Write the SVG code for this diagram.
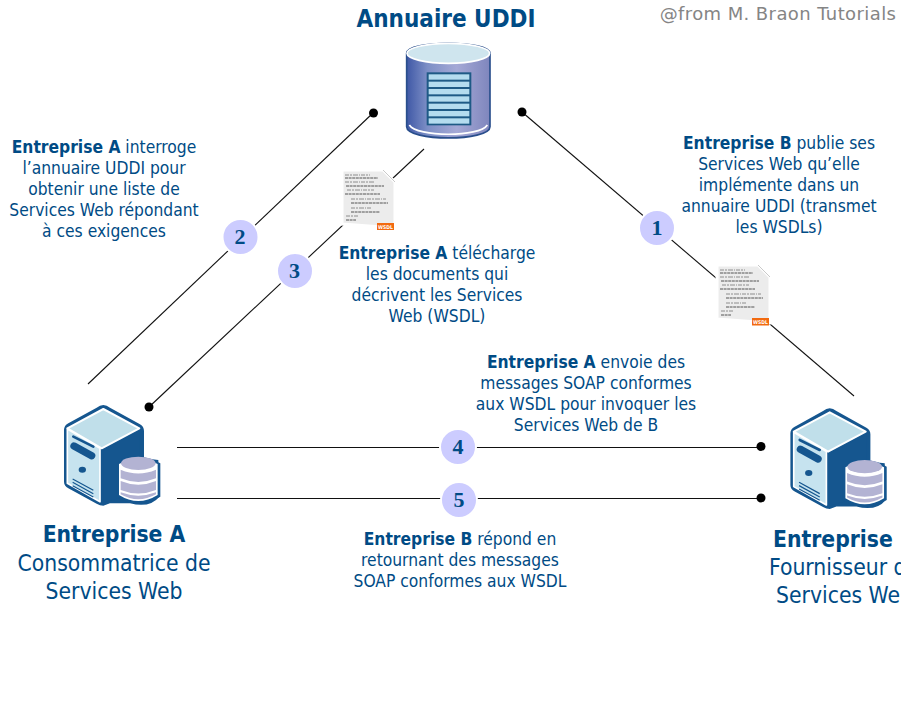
<svg xmlns="http://www.w3.org/2000/svg" xmlns:xlink="http://www.w3.org/1999/xlink" width="901" height="715" viewBox="0 0 901 715">
<style>
text{font-family:"DejaVu Sans Condensed","DejaVu Sans",sans-serif;fill:#004b85;text-anchor:middle}
.b{font-size:17.300px}
.h{font-weight:bold}
.big{font-size:22.700px}
.s{text-anchor:start}
.num{font-family:"Liberation Serif",serif;font-weight:bold;font-size:22px}
.c{fill:#ccccff;stroke:#fff;stroke-width:2}
.l{stroke:#111;stroke-width:1.1;fill:none}
.dot{fill:#000}
.badge{fill:#f26a10}
.bt{font-size:5px;font-weight:bold;fill:#fff}
.tl{stroke:#777;stroke-width:.8;stroke-dasharray:4 1 2 1 5 1 1 1;fill:none}
.tk{stroke:#444;stroke-width:.9;stroke-dasharray:3 .6;fill:none}
</style>
<defs>
<linearGradient id="cy" x1="0" x2="1" y1="0" y2="0"><stop offset="0" stop-color="#3f58a6"/><stop offset=".25" stop-color="#7d8fc6"/><stop offset=".6" stop-color="#a5a9d6"/><stop offset="1" stop-color="#7f86bd"/></linearGradient>
<g id="server">
<path d="M160,30Q170,30 180,38L270,88Q282,95 282,108L282,190L325,195L328,305Q300,340 240,325L180,325L160,332Q150,332 140,326L55,280Q42,272 42,260L42,105Q42,92 55,85L140,38Q150,30 160,30Z" fill="#15568f"/>
<path d="M160,42L268,100L155,160L52,100Z" fill="#c0dfea" stroke="#fff" stroke-width="6" stroke-linejoin="round"/>
<path d="M52,102L150,160L150,320L52,265Z" fill="#c6e3ef" stroke="#fff" stroke-width="5" stroke-linejoin="round"/>
<path d="M160,168L270,106L270,190L215,190L205,310L160,322Z" fill="#15568f"/>
<path d="M70,125L130,155" stroke="#15568f" stroke-width="8" stroke-linecap="round"/>
<path d="M72,153L125,182" stroke="#15568f" stroke-width="22" stroke-linecap="round"/>
<ellipse cx="97" cy="224" rx="11" ry="9" fill="#15568f"/>
<path d="M68,252L130,286M68,262L130,296M68,272L130,306M68,282L125,313" stroke="#15568f" stroke-width="3.500"/>
<path d="M199,205Q265,165 331,205L331,305Q265,345 199,305Z" fill="#15568f"/>
<path d="M207,207Q265,175 323,207L323,300Q265,336 207,300Z" fill="#fff"/>
<ellipse cx="265" cy="205" rx="52" ry="20" fill="#b3b3d3"/>
<path d="M212,224Q265,247 318,224L318,250Q265,272 212,250Z" fill="#b3b3d3"/>
<path d="M212,258Q265,280 318,258L318,285Q265,306 212,285Z" fill="#b3b3d3"/>
<path d="M212,292Q265,312 318,292L318,298Q265,328 212,298Z" fill="#b3b3d3"/>
</g>
<g id="doc">
<path d="M0,0L41,0L53,12L53,58L0,54Z" fill="#ececec" stroke="#fff" stroke-width="3"/>
<path d="M41,0L53,12" stroke="#bbb" stroke-width=".8"/>
<path class="tl" d="M3,5H28M3,12H33M5,20H32M9,29H44M9,38H30"/>
<path class="tk" d="M3,8H36M4,16H42M3,24H38M9,33H46M9,42H38"/>
<path class="tk" d="M4,50H14"/>
<path class="tl" d="M4,46H16"/>
</g>
</defs>
<g id="connectors">
<path class="l" d="M88,384L373,113"/>
<path class="l" d="M149,407L424,149"/>
<path class="l" d="M522,112L854,396"/>
<path class="l" d="M177,447.500H761"/>
<path class="l" d="M177,498.500H761"/>
<circle class="dot" cx="373.500" cy="113" r="4.500"/>
<circle class="dot" cx="149" cy="407" r="4.500"/>
<circle class="dot" cx="522" cy="112" r="4.500"/>
<circle class="dot" cx="761" cy="446.500" r="4.500"/>
<circle class="dot" cx="761" cy="498" r="4.500"/>
</g>
<g id="uddi">
<text class="h" x="446" y="26.500" font-size="24">Annuaire UDDI</text>
<g transform="translate(390,30) scale(.3333)">
<path d="M50,70C50,30 300,30 300,70L300,290C300,335 50,335 50,290Z" fill="url(#cy)" stroke="#294e8c" stroke-width="5"/>
<path d="M58,285C80,322 270,322 292,285" fill="none" stroke="#fff" stroke-width="5"/>
<ellipse cx="175" cy="70" rx="124" ry="30" fill="#cfe5ee" stroke="#fff" stroke-width="5"/>
<rect x="110" y="127" width="134" height="159" fill="#1e5a86"/>
<g fill="#b4dcef"><rect x="116" y="133" width="122" height="16"/><rect x="116" y="155" width="122" height="16"/><rect x="116" y="177" width="122" height="16"/><rect x="116" y="199" width="122" height="16"/><rect x="116" y="221" width="122" height="16"/><rect x="116" y="243" width="122" height="16"/><rect x="116" y="265" width="122" height="16"/></g>
</g>
</g>
<g id="watermark"><text x="778" y="20" font-size="18" letter-spacing=".4" style="font-family:'DejaVu Sans',sans-serif;fill:#858585">@from M. Braon Tutorials</text></g>
<g id="doc-left"><use xlink:href="#doc" href="#doc" x="342" y="170"/><rect class="badge" x="377" y="223" width="17" height="7"/><text class="bt" x="385.500" y="228.500">WSDL</text></g>
<g id="doc-right"><use xlink:href="#doc" href="#doc" x="717" y="265"/><rect class="badge" x="752" y="318" width="17" height="7.500"/><text class="bt" x="760.500" y="324">WSDL</text></g>
<g id="step1"><circle class="c" cx="657" cy="228" r="18"/><text class="num" x="657" y="235">1</text></g>
<g id="step2"><circle class="c" cx="240.500" cy="237" r="18"/><text class="num" x="240" y="244">2</text></g>
<g id="step3"><circle class="c" cx="295" cy="271" r="18"/><text class="num" x="294.500" y="278">3</text></g>
<g id="step4"><circle class="c" cx="458" cy="447" r="18"/><text class="num" x="458" y="454">4</text></g>
<g id="step5"><circle class="c" cx="459" cy="500" r="18"/><text class="num" x="459" y="507">5</text></g>
<g id="enterprise-a">
<use xlink:href="#server" href="#server" transform="translate(50,395) scale(.3333)"/>
<text class="big h" x="114" y="542">Entreprise A</text>
<text class="big" x="114" y="571">Consommatrice de</text>
<text class="big" x="114" y="599">Services Web</text>
</g>
<g id="enterprise-b">
<use xlink:href="#server" href="#server" transform="translate(776.400,398.300) scale(.3333)"/>
<text class="big h s" x="773" y="547">Entreprise B</text>
<text class="big s" x="769" y="575">Fournisseur de</text>
<text class="big s" x="776" y="603">Services Web</text>
</g>
<g id="label-2">
<text class="b" x="104" y="153"><tspan class="h">Entreprise A</tspan> interroge</text>
<text class="b" x="104" y="174">l’annuaire UDDI pour</text>
<text class="b" x="104" y="195">obtenir une liste de</text>
<text class="b" x="104" y="216">Services Web répondant</text>
<text class="b" x="104" y="237">à ces exigences</text>
</g>
<g id="label-3">
<text class="b" x="437" y="259"><tspan class="h">Entreprise A</tspan> télécharge</text>
<text class="b" x="437" y="280">les documents qui</text>
<text class="b" x="437" y="301">décrivent les Services</text>
<text class="b" x="437" y="322">Web (WSDL)</text>
</g>
<g id="label-1">
<text class="b" x="779" y="149"><tspan class="h">Entreprise B</tspan> publie ses</text>
<text class="b" x="779" y="170">Services Web qu’elle</text>
<text class="b" x="779" y="191">implémente dans un</text>
<text class="b" x="779" y="212">annuaire UDDI (transmet</text>
<text class="b" x="779" y="233">les WSDLs)</text>
</g>
<g id="label-4">
<text class="b" x="586" y="368"><tspan class="h">Entreprise A</tspan> envoie des</text>
<text class="b" x="586" y="389">messages SOAP conformes</text>
<text class="b" x="586" y="410">aux WSDL pour invoquer les</text>
<text class="b" x="586" y="431">Services Web de B</text>
</g>
<g id="label-5">
<text class="b" x="460" y="545"><tspan class="h">Entreprise B</tspan> répond en</text>
<text class="b" x="460" y="566">retournant des messages</text>
<text class="b" x="460" y="587">SOAP conformes aux WSDL</text>
</g>
</svg>
